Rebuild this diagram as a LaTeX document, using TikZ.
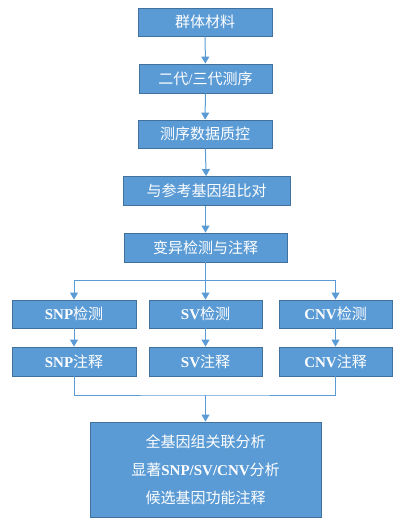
\documentclass[tikz,border=0pt]{standalone}
\usepackage{fontspec}
\setmainfont{Liberation Serif}
\newfontfamily\cjk{Noto Sans CJK SC}
\usetikzlibrary{arrows.meta}
\definecolor{boxfill}{HTML}{5B9BD5}
\definecolor{boxedge}{HTML}{41719C}
\definecolor{linec}{HTML}{5B9BD5}
\newcommand{\lt}[1]{{\rmfamily\bfseries #1}}
\newcommand{\lr}[1]{{\rmfamily #1}}
\tikzset{
  stepbox/.style={draw=boxedge, line width=0.9pt, fill=boxfill, text=white,
    minimum height=28pt, inner sep=0pt, font=\fontsize{15}{17}\selectfont\cjk},
  conn/.style={draw=linec, line width=1pt},
  arr/.style={conn, -{Triangle[width=8pt,length=7pt]}}
}
\begin{document}
\begin{tikzpicture}[x=1pt,y=-1pt]
\useasboundingbox (0,0) rectangle (404,524);
\node[stepbox, minimum width=134pt] (b1) at (205,22) {群体材料};
\node[stepbox, minimum width=133pt, minimum height=29pt] (b2) at (205.5,78.5) {二代\lr{/}三代测序};
\node[stepbox, minimum width=134pt] (b3) at (205,134) {测序数据质控};
\node[stepbox, minimum width=167pt, minimum height=29pt] (b4) at (206.5,191) {与参考基因组比对};
\node[stepbox, minimum width=163pt, minimum height=29pt] (b5) at (205.5,247.5) {变异检测与注释};
\node[stepbox, minimum width=124pt] (d1) at (74,314) {\lt{SNP}检测};
\node[stepbox, minimum width=113pt] (d2) at (205.5,314) {\lt{SV}检测};
\node[stepbox, minimum width=113pt] (d3) at (335.5,314) {\lt{CNV}检测};
\node[stepbox, minimum width=124pt, minimum height=29pt] (a1) at (74,361.5) {\lt{SNP}注释};
\node[stepbox, minimum width=113pt, minimum height=29pt] (a2) at (205.5,361.5) {\lt{SV}注释};
\node[stepbox, minimum width=113pt, minimum height=29pt] (a3) at (335.5,361.5) {\lt{CNV}注释};
\node[stepbox, minimum width=231pt, minimum height=95pt, align=center] (fin) at (205.5,469.5)
  {全基因组关联分析\\[11pt]显著\lt{SNP/SV/CNV}分析\\[11pt]候选基因功能注释};
\coordinate (br) at (205.5,280);
\coordinate (mg) at (205.5,395);
\draw[arr] (b1) -- (b2);
\draw[arr] (b2) -- (b3);
\draw[arr] (b3) -- (b4);
\draw[arr] (b4.south -| b5) -- (b5);
\draw[conn] (b5) -- (br);
\draw[arr] (br) -| (d1);
\draw[arr] (br) -- (d2);
\draw[arr] (br) -| (d3);
\draw[arr] (d1) -- (a1);
\draw[arr] (d2) -- (a2);
\draw[arr] (d3) -- (a3);
\draw[conn] (a1) |- (mg) -| (a3);
\draw[arr] (mg) -- (fin);
\end{tikzpicture}
\end{document}
